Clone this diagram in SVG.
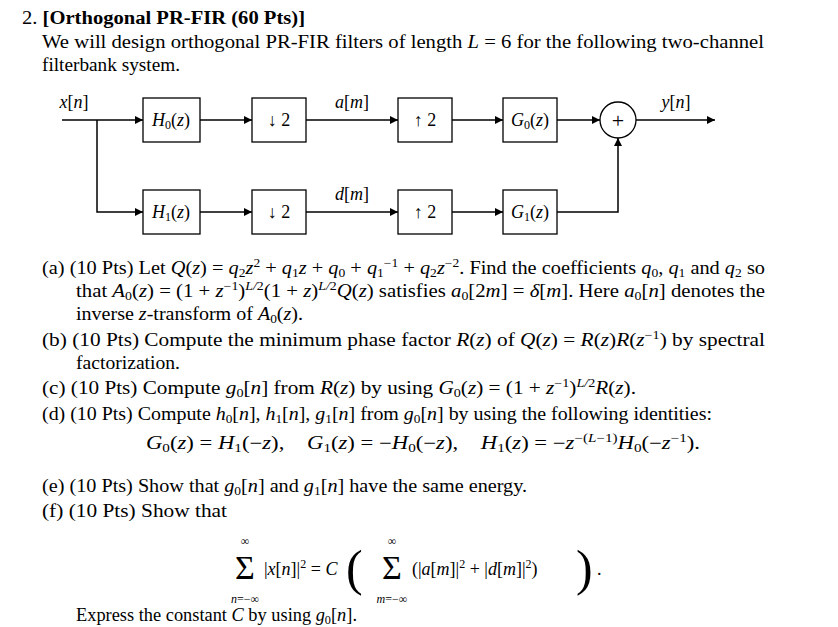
<svg xmlns="http://www.w3.org/2000/svg" width="838" height="627" viewBox="0 0 838 627">
<style>
text{font-family:"Liberation Serif","DejaVu Serif",serif;font-size:18px;fill:#000}
.i{font-style:italic}
.s{font-size:12px}
.b{stroke:#000;stroke-width:1.3;fill:#fff}
.w{stroke:#000;stroke-width:1.5;fill:none}
.c{text-anchor:middle}
.big{font-size:34px}
.par{font-size:50px;font-weight:normal}
.plus{font-size:22px}
</style>
<defs><marker id="a" viewBox="0 0 10 10" refX="10" refY="5" markerWidth="8" markerHeight="8" orient="auto" markerUnits="userSpaceOnUse"><path d="M0,0L10,5L0,10z"/></marker></defs>
<rect width="838" height="627" fill="#fff"/>
<text x="22" y="24" textLength="283" lengthAdjust="spacingAndGlyphs">2. <tspan font-weight="bold">[Orthogonal PR-FIR (60 Pts)]</tspan></text>
<text x="42" y="48" textLength="722" lengthAdjust="spacingAndGlyphs">We will design orthogonal PR-FIR filters of length <tspan class="i">L</tspan> = 6 for the following two-channel</text>
<text x="42" y="71" textLength="138" lengthAdjust="spacingAndGlyphs">filterbank system.</text>
<g id="connectors" class="w">
<path d="M62,120H143" marker-end="url(#a)"/>
<path d="M97,120V212H143" marker-end="url(#a)"/>
<path d="M200,120H252" marker-end="url(#a)"/>
<path d="M200,212H252" marker-end="url(#a)"/>
<path d="M306,120H398" marker-end="url(#a)"/>
<path d="M306,212H398" marker-end="url(#a)"/>
<path d="M452,120H503" marker-end="url(#a)"/>
<path d="M452,212H503" marker-end="url(#a)"/>
<path d="M557,120H600" marker-end="url(#a)"/>
<path d="M557,212H618V138" marker-end="url(#a)"/>
<path d="M636,120H715" marker-end="url(#a)"/>
</g>
<text x="74" y="108" class="i c">x<tspan font-style="normal">[</tspan>n<tspan font-style="normal">]</tspan></text>
<text x="352" y="108" class="i c">a<tspan font-style="normal">[</tspan>m<tspan font-style="normal">]</tspan></text>
<text x="352" y="200" class="i c">d<tspan font-style="normal">[</tspan>m<tspan font-style="normal">]</tspan></text>
<text x="676" y="108" class="i c">y<tspan font-style="normal">[</tspan>n<tspan font-style="normal">]</tspan></text>
<g id="H0"><rect class="b" x="143" y="98" width="57" height="44"/><text x="171" y="126" class="c"><tspan class="i">H</tspan><tspan class="s" dy="3">0</tspan><tspan dy="-3">(</tspan><tspan class="i">z</tspan>)</text></g>
<g id="D0"><rect class="b" x="252" y="98" width="54" height="44"/><text x="279" y="126" class="c">↓ 2</text></g>
<g id="U0"><rect class="b" x="398" y="98" width="54" height="44"/><text x="425" y="126" class="c">↑ 2</text></g>
<g id="G0"><rect class="b" x="503" y="98" width="54" height="44"/><text x="530" y="126" class="c"><tspan class="i">G</tspan><tspan class="s" dy="3">0</tspan><tspan dy="-3">(</tspan><tspan class="i">z</tspan>)</text></g>
<g id="sum"><circle class="b" cx="618" cy="120" r="18"/><text x="618" y="128" class="c plus">+</text></g>
<g id="H1"><rect class="b" x="143" y="190" width="57" height="44"/><text x="171" y="218" class="c"><tspan class="i">H</tspan><tspan class="s" dy="3">1</tspan><tspan dy="-3">(</tspan><tspan class="i">z</tspan>)</text></g>
<g id="D1"><rect class="b" x="252" y="190" width="54" height="44"/><text x="279" y="218" class="c">↓ 2</text></g>
<g id="U1"><rect class="b" x="398" y="190" width="54" height="44"/><text x="425" y="218" class="c">↑ 2</text></g>
<g id="G1"><rect class="b" x="503" y="190" width="54" height="44"/><text x="530" y="218" class="c"><tspan class="i">G</tspan><tspan class="s" dy="3">1</tspan><tspan dy="-3">(</tspan><tspan class="i">z</tspan>)</text></g>

<text x="42" y="274" textLength="723" lengthAdjust="spacingAndGlyphs">(a) (10 Pts) Let <tspan class="i">Q</tspan>(<tspan class="i">z</tspan>) = <tspan class="i">q</tspan><tspan class="s" dy="3">2</tspan><tspan class="i" dy="-3">z</tspan><tspan class="s" dy="-7">2</tspan><tspan dy="7"> + </tspan><tspan class="i">q</tspan><tspan class="s" dy="3">1</tspan><tspan class="i" dy="-3">z</tspan> + <tspan class="i">q</tspan><tspan class="s" dy="3">0</tspan><tspan dy="-3"> + </tspan><tspan class="i">q</tspan><tspan class="s" dy="3">1</tspan><tspan class="s" dy="-10">−1</tspan><tspan dy="7"> + </tspan><tspan class="i">q</tspan><tspan class="s" dy="3">2</tspan><tspan class="i" dy="-3">z</tspan><tspan class="s" dy="-7">−2</tspan><tspan dy="7">. Find the coefficients </tspan><tspan class="i">q</tspan><tspan class="s" dy="3">0</tspan><tspan dy="-3">, </tspan><tspan class="i">q</tspan><tspan class="s" dy="3">1</tspan><tspan dy="-3"> and </tspan><tspan class="i">q</tspan><tspan class="s" dy="3">2</tspan><tspan dy="-3"> so</tspan></text>
<text x="76" y="297" textLength="689" lengthAdjust="spacingAndGlyphs">that <tspan class="i">A</tspan><tspan class="s" dy="3">0</tspan><tspan dy="-3">(</tspan><tspan class="i">z</tspan>) = (1 + <tspan class="i">z</tspan><tspan class="s" dy="-7">−1</tspan><tspan dy="7">)</tspan><tspan class="s i" dy="-7">L/</tspan><tspan class="s">2</tspan><tspan dy="7">(1 + </tspan><tspan class="i">z</tspan>)<tspan class="s i" dy="-7">L/</tspan><tspan class="s">2</tspan><tspan class="i" dy="7">Q</tspan>(<tspan class="i">z</tspan>) satisfies <tspan class="i">a</tspan><tspan class="s" dy="3">0</tspan><tspan dy="-3">[2</tspan><tspan class="i">m</tspan>] = <tspan class="i">δ</tspan>[<tspan class="i">m</tspan>]. Here <tspan class="i">a</tspan><tspan class="s" dy="3">0</tspan><tspan dy="-3">[</tspan><tspan class="i">n</tspan>] denotes the</text>
<text x="76" y="320" textLength="227" lengthAdjust="spacingAndGlyphs">inverse <tspan class="i">z</tspan>-transform of <tspan class="i">A</tspan><tspan class="s" dy="3">0</tspan><tspan dy="-3">(</tspan><tspan class="i">z</tspan>).</text>
<text x="42" y="346" textLength="723" lengthAdjust="spacingAndGlyphs">(b) (10 Pts) Compute the minimum phase factor <tspan class="i">R</tspan>(<tspan class="i">z</tspan>) of <tspan class="i">Q</tspan>(<tspan class="i">z</tspan>) = <tspan class="i">R</tspan>(<tspan class="i">z</tspan>)<tspan class="i">R</tspan>(<tspan class="i">z</tspan><tspan class="s" dy="-7">−1</tspan><tspan dy="7">) by spectral</tspan></text>
<text x="76" y="369" textLength="104" lengthAdjust="spacingAndGlyphs">factorization.</text>
<text x="42" y="394" textLength="594" lengthAdjust="spacingAndGlyphs">(c) (10 Pts) Compute <tspan class="i">g</tspan><tspan class="s" dy="3">0</tspan><tspan dy="-3">[</tspan><tspan class="i">n</tspan>] from <tspan class="i">R</tspan>(<tspan class="i">z</tspan>) by using <tspan class="i">G</tspan><tspan class="s" dy="3">0</tspan><tspan dy="-3">(</tspan><tspan class="i">z</tspan>) = (1 + <tspan class="i">z</tspan><tspan class="s" dy="-7">−1</tspan><tspan dy="7">)</tspan><tspan class="s i" dy="-7">L/</tspan><tspan class="s">2</tspan><tspan class="i" dy="7">R</tspan>(<tspan class="i">z</tspan>).</text>
<text x="42" y="420" textLength="670" lengthAdjust="spacingAndGlyphs">(d) (10 Pts) Compute <tspan class="i">h</tspan><tspan class="s" dy="3">0</tspan><tspan dy="-3">[</tspan><tspan class="i">n</tspan>], <tspan class="i">h</tspan><tspan class="s" dy="3">1</tspan><tspan dy="-3">[</tspan><tspan class="i">n</tspan>], <tspan class="i">g</tspan><tspan class="s" dy="3">1</tspan><tspan dy="-3">[</tspan><tspan class="i">n</tspan>] from <tspan class="i">g</tspan><tspan class="s" dy="3">0</tspan><tspan dy="-3">[</tspan><tspan class="i">n</tspan>] by using the following identities:</text>
<text x="146" y="449" xml:space="preserve" textLength="554" lengthAdjust="spacingAndGlyphs"><tspan class="i">G</tspan><tspan class="s" dy="3">0</tspan><tspan dy="-3">(</tspan><tspan class="i">z</tspan>) = <tspan class="i">H</tspan><tspan class="s" dy="3">1</tspan><tspan dy="-3">(−</tspan><tspan class="i">z</tspan>),    <tspan class="i">G</tspan><tspan class="s" dy="3">1</tspan><tspan dy="-3">(</tspan><tspan class="i">z</tspan>) = −<tspan class="i">H</tspan><tspan class="s" dy="3">0</tspan><tspan dy="-3">(−</tspan><tspan class="i">z</tspan>),    <tspan class="i">H</tspan><tspan class="s" dy="3">1</tspan><tspan dy="-3">(</tspan><tspan class="i">z</tspan>) = −<tspan class="i">z</tspan><tspan class="s" dy="-7">−(</tspan><tspan class="s i">L</tspan><tspan class="s">−1)</tspan><tspan class="i" dy="7">H</tspan><tspan class="s" dy="3">0</tspan><tspan dy="-3">(−</tspan><tspan class="i">z</tspan><tspan class="s" dy="-7">−1</tspan><tspan dy="7">).</tspan></text>
<text x="42" y="492" textLength="485" lengthAdjust="spacingAndGlyphs">(e) (10 Pts) Show that <tspan class="i">g</tspan><tspan class="s" dy="3">0</tspan><tspan dy="-3">[</tspan><tspan class="i">n</tspan>] and <tspan class="i">g</tspan><tspan class="s" dy="3">1</tspan><tspan dy="-3">[</tspan><tspan class="i">n</tspan>] have the same energy.</text>
<text x="42" y="517" textLength="185" lengthAdjust="spacingAndGlyphs">(f) (10 Pts) Show that</text>
<text x="245" y="545" class="c s">∞</text>
<text x="245" y="579" class="c big">Σ</text>
<text x="245" y="603" class="c s"><tspan class="i">n</tspan>=−∞</text>
<text x="264" y="575">|<tspan class="i">x</tspan>[<tspan class="i">n</tspan>]|<tspan class="s" dy="-7">2</tspan><tspan dy="7"> = </tspan><tspan class="i">C</tspan></text>
<text x="346" y="585" class="par">(</text>
<text x="392" y="545" class="c s">∞</text>
<text x="392" y="579" class="c big">Σ</text>
<text x="392" y="603" class="c s"><tspan class="i">m</tspan>=−∞</text>
<text x="412" y="575">(|<tspan class="i">a</tspan>[<tspan class="i">m</tspan>]|<tspan class="s" dy="-7">2</tspan><tspan dy="7"> + |</tspan><tspan class="i">d</tspan>[<tspan class="i">m</tspan>]|<tspan class="s" dy="-7">2</tspan><tspan dy="7">)</tspan></text>
<text x="576" y="585" class="par">)</text>
<text x="597" y="575">.</text>
<text x="76" y="621" textLength="281" lengthAdjust="spacingAndGlyphs">Express the constant <tspan class="i">C</tspan> by using <tspan class="i">g</tspan><tspan class="s" dy="3">0</tspan><tspan dy="-3">[</tspan><tspan class="i">n</tspan>].</text>
</svg>
